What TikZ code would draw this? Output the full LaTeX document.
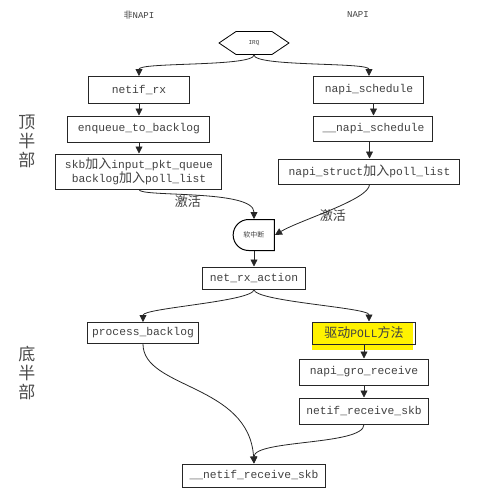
\documentclass[tikz,border=0pt]{standalone}
\usepackage{fontspec}
\setmonofont{Liberation Mono}
\newfontfamily\cjk[Scale=1.15]{Noto Sans CJK SC}
\newfontfamily\cjkbig{Noto Sans CJK SC}
\usetikzlibrary{positioning,arrows.meta,shapes.symbols,shapes.misc,backgrounds}

\begin{document}
\begin{tikzpicture}[>={Triangle[width=7pt,length=7pt]},node distance=40pt,on grid,auto]
        \tikzstyle{func}=[draw=black!85,line width=1pt,inner sep=2pt,minimum height=26pt,text=black!75,font=\fontsize{11.3}{13}\selectfont\ttfamily]
        \tikzstyle{link}=[->,line width=0.8pt,black!85]
        \useasboundingbox (-254pt,43pt) rectangle (224pt,-461pt);
        \node[signal,signal to=east and west,signal pointer angle=68,draw,line width=0.8pt,minimum width=70pt,minimum height=23pt,inner sep=0pt,text=black!75,font=\fontsize{6}{7}\selectfont\ttfamily] (irq) {IRQ};
        \node[func,minimum width=101pt,minimum height=27pt] (rx) [below left=47pt and 115pt of irq] {netif\_rx};
        \node[func,minimum width=110pt,minimum height=27pt] (sched) [below right=47pt and 115pt of irq] {napi\_schedule};
        \node[func,minimum width=142pt] (enq) [below=39pt of rx] {enqueue\_to\_backlog};
        \node[func,minimum width=119pt,minimum height=25pt] (sched2) [below right=38.5pt and 4.5pt of sched] {\_\_napi\_schedule};
        \node[func,minimum width=166pt,minimum height=35pt,align=center] (skb) [below=42.5pt of enq] {skb{\cjk 加入}input\_pkt\_queue\\backlog{\cjk 加入}poll\_list};
        \node[func,minimum width=181pt,minimum height=25pt] (nstruct) [below left=43pt and 4pt of sched2] {napi\_struct{\cjk 加入}poll\_list};
        \node[rounded rectangle,rounded rectangle right arc=none,draw,line width=1pt,minimum width=48pt,minimum height=31pt,text=black!75,font=\fontsize{7}{8}\selectfont\cjkbig] (soft) [below=192pt of irq] {软中断};
        \node[func,minimum width=103pt,minimum height=22pt] (action) [below=43pt of soft] {net\_rx\_action};
        \node[func,minimum width=111pt,minimum height=21pt] (backlog) [below left=55pt and 111pt of action] {process\_backlog};
        \node[func,minimum width=103pt,minimum height=22pt] (poll) [below right=55pt and 110pt of action] {{\cjk 驱动}POLL{\cjk 方法}};
        \node[func,minimum width=129pt] (gro) [below=39pt of poll] {napi\_gro\_receive};
        \node[func,minimum width=129pt] (nrs) [below=39pt of gro] {netif\_receive\_skb};
        \node[func,minimum width=143pt,minimum height=23pt] (final) [below left=64.5pt and 110pt of nrs] {\_\_netif\_receive\_skb};
        % headings and side labels
        \node[text=black!75,font=\fontsize{9}{10}\selectfont] (nonnapi) [above=75pt of rx] {{\cjkbig 非}\ttfamily NAPI};
        \node[text=black!75,font=\fontsize{9}{10}\selectfont\ttfamily] (napi) [above=75pt of sched,xshift=-11pt] {NAPI};
        \node[text=black!70,align=center,font=\fontsize{17}{19}\selectfont\cjkbig] (tophalf) at (-227pt,-98pt) {顶\\半\\部};
        \node[text=black!70,align=center,font=\fontsize{17}{19}\selectfont\cjkbig] (bottomhalf) at (-227pt,-330pt) {底\\半\\部};
        \node[text=black!75,font=\fontsize{13}{14}\selectfont\cjkbig] (act1) at (-66pt,-159pt) {激活};
        \node[text=black!75,font=\fontsize{13}{14}\selectfont\cjkbig] (act2) at (79pt,-173pt) {激活};
        % highlight
        \begin{pgfonlayer}{background}
            \fill[yellow] (poll.north west) rectangle ([xshift=-3pt,yshift=-5pt]poll.south east);
        \end{pgfonlayer}
        \draw[link] (irq.south) .. controls +(0,-12pt) and +(0,14pt) .. (rx.north);
        \draw[link] (irq.south) .. controls +(0,-12pt) and +(0,14pt) .. (sched.north);
        \draw[link] (rx.south) -- (enq.north);
        \draw[link] (sched2.north |- sched.south) -- (sched2.north);
        \draw[link] (enq.south) -- (skb.north);
        \draw[link] (sched2.south -| nstruct.north) -- (nstruct.north);
        \draw[link] (skb.south) .. controls +(0,-8pt) and +(0,30pt) .. (soft.north);
        \draw[link] (nstruct.south) .. controls +(0,-15pt) and +(25pt,15pt) .. (soft.east);
        \draw[link] (soft.south) -- (action.north);
        \draw[link] (action.south) .. controls +(0,-12pt) and +(0,14pt) .. (backlog.north);
        \draw[link] (action.south) .. controls +(0,-12pt) and +(0,14pt) .. ([xshift=5pt]poll.north);
        \draw[link] (poll.south) -- (gro.north);
        \draw[link] (gro.south) -- (nrs.north);
        \draw[link] (backlog.south) .. controls +(0,-45pt) and +(-5pt,80pt) .. (final.north);
        \draw[link] (nrs.south) .. controls +(0,-21pt) and +(0,24pt) .. (final.north);
    \end{tikzpicture}
\end{document}
